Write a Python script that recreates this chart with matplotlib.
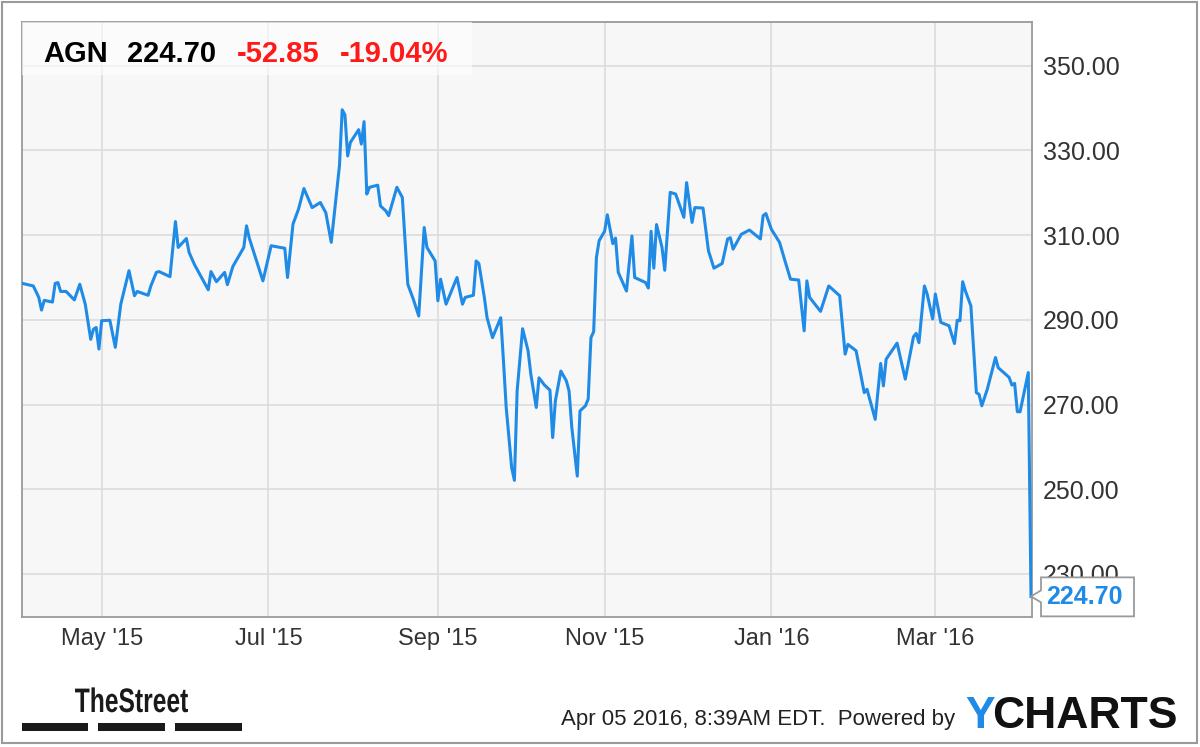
import numpy as np
import pandas as pd
import matplotlib
matplotlib.use('Agg')
import matplotlib.pyplot as plt
import matplotlib.dates as mdates
from matplotlib.patches import Rectangle, Polygon, PathPatch
from matplotlib.textpath import TextPath
from matplotlib.font_manager import FontProperties
from matplotlib.transforms import IdentityTransform, Affine2D

plt.rcParams['font.family'] = ['Liberation Sans', 'DejaVu Sans']

# AGN daily close
dates = [
    '2015-04-02', '2015-04-06', '2015-04-08', '2015-04-09', '2015-04-10', '2015-04-13',
    '2015-04-14', '2015-04-15', '2015-04-16', '2015-04-18', '2015-04-21', '2015-04-23',
    '2015-04-25', '2015-04-27', '2015-04-28', '2015-04-29', '2015-04-30', '2015-05-01',
    '2015-05-04', '2015-05-06', '2015-05-08', '2015-05-11', '2015-05-13', '2015-05-14',
    '2015-05-18', '2015-05-19', '2015-05-21', '2015-05-22', '2015-05-26', '2015-05-28',
    '2015-05-29', '2015-06-01', '2015-06-02', '2015-06-04', '2015-06-09', '2015-06-10',
    '2015-06-12', '2015-06-15', '2015-06-16', '2015-06-18', '2015-06-22', '2015-06-23',
    '2015-06-24', '2015-06-29', '2015-07-02', '2015-07-07', '2015-07-08', '2015-07-10',
    '2015-07-12', '2015-07-14', '2015-07-17', '2015-07-20', '2015-07-22', '2015-07-24',
    '2015-07-27', '2015-07-28', '2015-07-29', '2015-07-30', '2015-07-31', '2015-08-03',
    '2015-08-04', '2015-08-05', '2015-08-06', '2015-08-07', '2015-08-10', '2015-08-11',
    '2015-08-13', '2015-08-14', '2015-08-17', '2015-08-19', '2015-08-21', '2015-08-23',
    '2015-08-25', '2015-08-27', '2015-08-28', '2015-08-31', '2015-09-01', '2015-09-02',
    '2015-09-04', '2015-09-08', '2015-09-10', '2015-09-11', '2015-09-14', '2015-09-15',
    '2015-09-16', '2015-09-18', '2015-09-19', '2015-09-21', '2015-09-22', '2015-09-24',
    '2015-09-25', '2015-09-26', '2015-09-28', '2015-09-29', '2015-09-30', '2015-10-02',
    '2015-10-04', '2015-10-05', '2015-10-07', '2015-10-08', '2015-10-10', '2015-10-12',
    '2015-10-13', '2015-10-14', '2015-10-16', '2015-10-18', '2015-10-19', '2015-10-20',
    '2015-10-22', '2015-10-23', '2015-10-25', '2015-10-26', '2015-10-27', '2015-10-28',
    '2015-10-29', '2015-10-30', '2015-11-01', '2015-11-02', '2015-11-04', '2015-11-05',
    '2015-11-06', '2015-11-09', '2015-11-11', '2015-11-12', '2015-11-16', '2015-11-17',
    '2015-11-18', '2015-11-19', '2015-11-20', '2015-11-22', '2015-11-23', '2015-11-25',
    '2015-11-27', '2015-11-30', '2015-12-01', '2015-12-03', '2015-12-04', '2015-12-07',
    '2015-12-09', '2015-12-11', '2015-12-14', '2015-12-16', '2015-12-17', '2015-12-18',
    '2015-12-21', '2015-12-24', '2015-12-28', '2015-12-29', '2015-12-30', '2016-01-01',
    '2016-01-04', '2016-01-06', '2016-01-08', '2016-01-11', '2016-01-13', '2016-01-14',
    '2016-01-15', '2016-01-19', '2016-01-22', '2016-01-26', '2016-01-28', '2016-01-29',
    '2016-02-01', '2016-02-04', '2016-02-05', '2016-02-08', '2016-02-10', '2016-02-11',
    '2016-02-12', '2016-02-16', '2016-02-19', '2016-02-22', '2016-02-23', '2016-02-24',
    '2016-02-26', '2016-02-27', '2016-02-29', '2016-03-01', '2016-03-03', '2016-03-06',
    '2016-03-08', '2016-03-09', '2016-03-10', '2016-03-11', '2016-03-12', '2016-03-14',
    '2016-03-16', '2016-03-17', '2016-03-18', '2016-03-20', '2016-03-23', '2016-03-24',
    '2016-03-28', '2016-03-29', '2016-03-30', '2016-03-31', '2016-04-01', '2016-04-04',
    '2016-04-05',
]
prices = [
    298.6, 298.0, 295.3, 292.3, 294.6, 294.2,
    298.6, 298.8, 296.7, 296.7, 294.7, 298.4,
    293.7, 285.4, 287.8, 288.2, 283.1, 289.8,
    289.9, 283.5, 293.7, 301.6, 295.7, 296.7,
    295.8, 298.0, 301.2, 301.4, 300.2, 313.2,
    307.1, 309.2, 305.9, 303.0, 297.1, 301.4,
    299.0, 301.2, 298.3, 302.6, 307.1, 312.2,
    309.3, 299.2, 307.5, 306.9, 300.0, 312.6,
    316.1, 321.0, 316.5, 317.7, 315.3, 308.3,
    326.4, 339.6, 338.4, 328.7, 331.9, 334.9,
    331.5, 336.8, 319.7, 321.3, 321.8, 316.9,
    315.7, 314.6, 321.3, 318.9, 298.4, 294.9,
    290.9, 311.8, 307.1, 303.9, 294.5, 299.6,
    293.7, 300.0, 293.7, 295.3, 295.8, 303.9,
    303.3, 295.3, 290.5, 285.8, 287.4, 290.5,
    280.3, 269.3, 255.1, 252.1, 273.2, 287.9,
    282.7, 277.2, 269.3, 276.3, 274.6, 273.4,
    262.2, 270.9, 277.9, 275.6, 273.2, 264.6,
    253.1, 268.5, 269.7, 271.3, 285.8, 287.2,
    304.7, 308.7, 310.9, 314.8, 308.0, 309.3,
    301.2, 296.8, 309.8, 300.0, 298.8, 297.5,
    310.9, 302.2, 312.5, 307.1, 301.7, 320.1,
    319.7, 314.2, 322.4, 313.0, 316.5, 316.4,
    306.3, 302.2, 303.3, 309.1, 309.4, 306.7,
    310.2, 311.2, 309.1, 314.6, 315.1, 311.4,
    308.3, 303.9, 299.6, 299.4, 287.4, 299.2,
    295.3, 292.0, 298.0, 295.7, 281.9, 284.2,
    282.7, 272.8, 273.6, 266.5, 279.7, 274.4,
    280.7, 284.5, 276.0, 286.0, 286.8, 284.6,
    298.0, 296.1, 290.2, 296.1, 289.4, 288.6,
    284.4, 289.9, 289.8, 299.0, 296.8, 293.3,
    272.8, 272.4, 269.7, 273.6, 281.1, 278.7,
    276.4, 274.6, 275.0, 268.3, 268.3, 277.55,
    224.70,
]

ticker = 'AGN'
last_price = '224.70'
change = '-52.85'
change_pct = '-19.04%'

x_tick_dates = ['2015-05-01', '2015-07-01', '2015-09-01', '2015-11-01', '2016-01-01', '2016-03-01']
x_tick_labels = ["May '15", "Jul '15", "Sep '15", "Nov '15", "Jan '16", "Mar '16"]
y_ticks = [230, 250, 270, 290, 310, 330, 350]

df = pd.DataFrame({'date': pd.to_datetime(dates), 'price': prices})

blue = '#1f8be6'
W, H = 1200, 747
fig = plt.figure(figsize=(W / 100, H / 100), dpi=100)
fig.patch.set_facecolor('white')

# plot area in pixels: left 21.7, right 1031.7, top 21.7, bottom 616.7
ax = fig.add_axes([21.7 / W, 1 - 616.7 / H, 1010 / W, 595 / H])
ax.set_facecolor('#f7f7f7')
ax.plot(df['date'], df['price'], color=blue, lw=2.2, solid_joinstyle='round', zorder=4)

ax.set_xlim(pd.Timestamp('2015-04-01 18:00'), pd.Timestamp('2016-04-05 06:00'))
ax.set_ylim(219.9, 360.4)
ax.set_xticks(pd.to_datetime(x_tick_dates))
ax.set_xticklabels(x_tick_labels)
ax.set_yticks(y_ticks)
ax.set_yticklabels(['%.2f' % v for v in y_ticks])
ax.yaxis.tick_right()
ax.tick_params(axis='both', length=0, colors='#333333')
ax.tick_params(axis='x', labelsize=17, pad=8)
ax.tick_params(axis='y', labelsize=18, pad=8)
ax.grid(True, color='#dcdcdc', lw=1.2)
ax.set_axisbelow(True)
for s in ax.spines.values():
    s.set_color('#9a9a9a')
    s.set_linewidth(1.3)

# header box
ax.add_patch(Rectangle((0, 1 - 53.3 / 595), 450 / 1010, 53.3 / 595, transform=ax.transAxes,
                       facecolor='white', alpha=0.6, edgecolor='none', zorder=3))
hy = 1 - 61.7 / H
fig.text(43 / W, hy, ticker, fontsize=21, fontweight='bold', color='black', va='baseline')
fig.text(127 / W, hy, last_price, fontsize=21, fontweight='bold', color='black', va='baseline')
fig.text(237 / W, hy, change, fontsize=21, fontweight='bold', color='#ff1a1a', va='baseline')
fig.text(340 / W, hy, change_pct, fontsize=21, fontweight='bold', color='#ff1a1a', va='baseline')

# last value callout
fig.canvas.draw()
px, py = ax.transData.transform((mdates.date2num(df['date'].iloc[-1]), df['price'].iloc[-1]))
verts = [(px, py), (px + 10, py + 6), (px + 10, py + 19), (px + 103, py + 19),
         (px + 103, py - 20), (px + 10, py - 20), (px + 10, py - 6)]
callout = Polygon(verts, closed=True, transform=IdentityTransform(), facecolor='white',
                  edgecolor='#9a9a9a', lw=1.3, zorder=10)
fig.add_artist(callout)
fig.text((px + 15) / W, py / H - 0.001, last_price, fontsize=18, fontweight='bold', color=blue,
         va='center', ha='left', zorder=11)

# footer: condensed "TheStreet" logo text
tp = TextPath((0, 0), 'TheStreet', size=34, prop=FontProperties(family='Liberation Sans', weight='bold'))
ext = tp.get_extents()
sx = 113 / ext.width
logo = PathPatch(tp, transform=Affine2D().translate(-ext.x0, 0).scale(sx, 1.0).translate(75, H - 712)
                 + IdentityTransform(), facecolor='#1a1a1a', edgecolor='none')
fig.add_artist(logo)
for x0, x1 in [(22, 88), (98, 165), (175, 242)]:
    fig.add_artist(Rectangle((x0 / W, 1 - 731 / H), (x1 - x0) / W, 8 / H,
                             transform=fig.transFigure, facecolor='#1a1a1a', edgecolor='none'))
fig.text(561 / W, 1 - 725 / H, 'Apr 05 2016, 8:39AM EDT.  Powered by', fontsize=16,
         color='#222222', va='baseline')
fig.text(965 / W, 1 - 728 / H, 'Y', fontsize=32, fontweight='bold', color=blue, va='baseline')
fig.text(1178 / W, 1 - 728 / H, 'CHARTS', fontsize=32, fontweight='bold', color='#111111',
         va='baseline', ha='right')

# outer border
fig.add_artist(Rectangle((1.7 / W, 1 - 742.7 / H), 1195 / W, 741 / H, transform=fig.transFigure,
                         facecolor='none', edgecolor='#9a9a9a', lw=1.5))

fig.savefig('out.png', dpi=100, facecolor='white')
